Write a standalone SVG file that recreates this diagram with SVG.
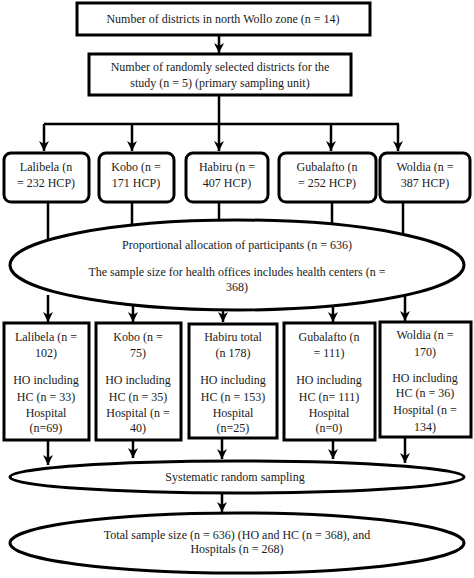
<svg xmlns="http://www.w3.org/2000/svg" width="474" height="578" viewBox="0 0 474 578">
<defs>
<marker id="ah" markerUnits="userSpaceOnUse" markerWidth="12" markerHeight="12" viewBox="0 0 12 12" refX="10" refY="6" orient="auto">
<path d="M0,1 L10,6 L0,11 L3,6 Z" fill="#000"/>
</marker>
</defs>
<style>
.box{fill:#fff;stroke:#000;stroke-width:3}
.ell{fill:#fff;stroke:#000;stroke-width:3}
.ln{fill:none;stroke:#000;stroke-width:2.5}
.ar{fill:none;stroke:#000;stroke-width:2.5;marker-end:url(#ah)}
</style>
<rect width="474" height="578" fill="#fff"/>
<g id="connectors">
<line class="ar" x1="219" y1="35" x2="219" y2="53"/>
<line class="ln" x1="219" y1="95" x2="219" y2="124"/>
<line class="ln" x1="44" y1="124" x2="399" y2="124"/>
<line class="ar" x1="44" y1="124" x2="44" y2="151"/>
<line class="ar" x1="132" y1="124" x2="132" y2="151"/>
<line class="ar" x1="219" y1="124" x2="219" y2="151"/>
<line class="ar" x1="331" y1="124" x2="331" y2="151"/>
<line class="ar" x1="398" y1="124" x2="398" y2="151"/>
<line class="ln" x1="48" y1="202" x2="48" y2="240"/>
<line class="ln" x1="132" y1="202" x2="132" y2="225"/>
<line class="ln" x1="219" y1="202" x2="219" y2="221"/>
<line class="ln" x1="332" y1="202" x2="332" y2="224"/>
<line class="ln" x1="403" y1="202" x2="403" y2="235"/>
<line class="ar" x1="48" y1="295" x2="48" y2="322"/>
<line class="ar" x1="133" y1="305" x2="133" y2="322"/>
<line class="ar" x1="223" y1="309" x2="223" y2="322"/>
<line class="ar" x1="333" y1="305" x2="333" y2="322"/>
<line class="ar" x1="405" y1="295" x2="405" y2="321"/>
<line class="ar" x1="48" y1="440" x2="48" y2="465"/>
<line class="ar" x1="133" y1="440" x2="133" y2="458"/>
<line class="ar" x1="222" y1="438" x2="222" y2="459"/>
<line class="ar" x1="333" y1="440" x2="333" y2="459"/>
<line class="ar" x1="405" y1="437" x2="405" y2="463"/>
<line class="ar" x1="222" y1="492" x2="222" y2="512"/>
</g>
<g font-family="Liberation Serif, Times New Roman, serif" font-size="12" text-anchor="middle" fill="#1a1a1a">
<g id="n-zone">
<rect class="box" x="77" y="3" width="293" height="32"/>
<text x="223" y="23">Number of districts in north Wollo zone (n = 14)</text>
</g>
<g id="n-selected">
<rect class="box" x="89" y="54" width="262" height="41"/>
<text x="220" y="71">Number of randomly selected districts for the</text>
<text x="220" y="87">study (n = 5) (primary sampling unit)</text>
</g>
<g id="n-lalibela1">
<rect class="box" x="4" y="153" width="85" height="49" rx="7"/>
<text x="46" y="171">Lalibela (n</text>
<text x="46" y="187">= 232 HCP)</text>
</g>
<g id="n-kobo1">
<rect class="box" x="99" y="153" width="75" height="49" rx="7"/>
<text x="136" y="171">Kobo (n =</text>
<text x="136" y="187">171 HCP)</text>
</g>
<g id="n-habiru1">
<rect class="box" x="186" y="153" width="82" height="49" rx="7"/>
<text x="227" y="171">Habiru (n =</text>
<text x="227" y="187">407 HCP)</text>
</g>
<g id="n-gubalafto1">
<rect class="box" x="279" y="153" width="97" height="49" rx="7"/>
<text x="327" y="171">Gubalafto (n</text>
<text x="327" y="187">= 252 HCP)</text>
</g>
<g id="n-woldia1">
<rect class="box" x="380" y="153" width="90" height="49" rx="7"/>
<text x="425" y="171">Woldia (n =</text>
<text x="425" y="187">387 HCP)</text>
</g>
<g id="n-allocation">
<ellipse class="ell" cx="237" cy="265" rx="227" ry="45"/>
<text x="237" y="249">Proportional allocation of participants (n = 636)</text>
<text x="237" y="276">The sample size for health offices includes health centers (n =</text>
<text x="237" y="291">368)</text>
</g>
<g id="n-lalibela2">
<rect class="box" x="4" y="323" width="85" height="117"/>
<text x="46" y="341">Lalibela (n =</text>
<text x="46" y="357">102)</text>
<text x="46" y="384">HO including</text>
<text x="46" y="401">HC (n = 33)</text>
<text x="46" y="417">Hospital</text>
<text x="46" y="432">(n=69)</text>
</g>
<g id="n-kobo2">
<rect class="box" x="96" y="323" width="85" height="117"/>
<text x="138" y="341">Kobo (n =</text>
<text x="138" y="357">75)</text>
<text x="138" y="384">HO including</text>
<text x="138" y="401">HC (n = 35)</text>
<text x="138" y="417">Hospital (n =</text>
<text x="138" y="432">40)</text>
</g>
<g id="n-habiru2">
<rect class="box" x="189" y="324" width="88" height="114"/>
<text x="233" y="341">Habiru total</text>
<text x="233" y="357">(n 178)</text>
<text x="233" y="384">HO including</text>
<text x="233" y="401">HC (n = 153)</text>
<text x="233" y="417">Hospital</text>
<text x="233" y="432">(n=25)</text>
</g>
<g id="n-gubalafto2">
<rect class="box" x="284" y="323" width="91" height="117"/>
<text x="329" y="341">Gubalafto (n</text>
<text x="329" y="357">= 111)</text>
<text x="329" y="384">HO including</text>
<text x="329" y="401">HC (n= 111)</text>
<text x="329" y="417">Hospital</text>
<text x="329" y="432">(n=0)</text>
</g>
<g id="n-woldia2">
<rect class="box" x="380" y="322" width="91" height="115"/>
<text x="425" y="339">Woldia (n =</text>
<text x="425" y="356">170)</text>
<text x="425" y="382">HO including</text>
<text x="425" y="397">HC (n = 36)</text>
<text x="425" y="414">Hospital (n =</text>
<text x="425" y="431">134)</text>
</g>
<g id="n-systematic">
<ellipse class="ell" cx="237" cy="477" rx="227" ry="16"/>
<text x="235" y="481">Systematic random sampling</text>
</g>
<g id="n-total">
<ellipse class="ell" cx="237" cy="543" rx="227" ry="30"/>
<text x="237" y="539">Total sample size (n = 636) (HO and HC (n = 368), and</text>
<text x="237" y="553">Hospitals (n = 268)</text>
</g>
</g>
</svg>
